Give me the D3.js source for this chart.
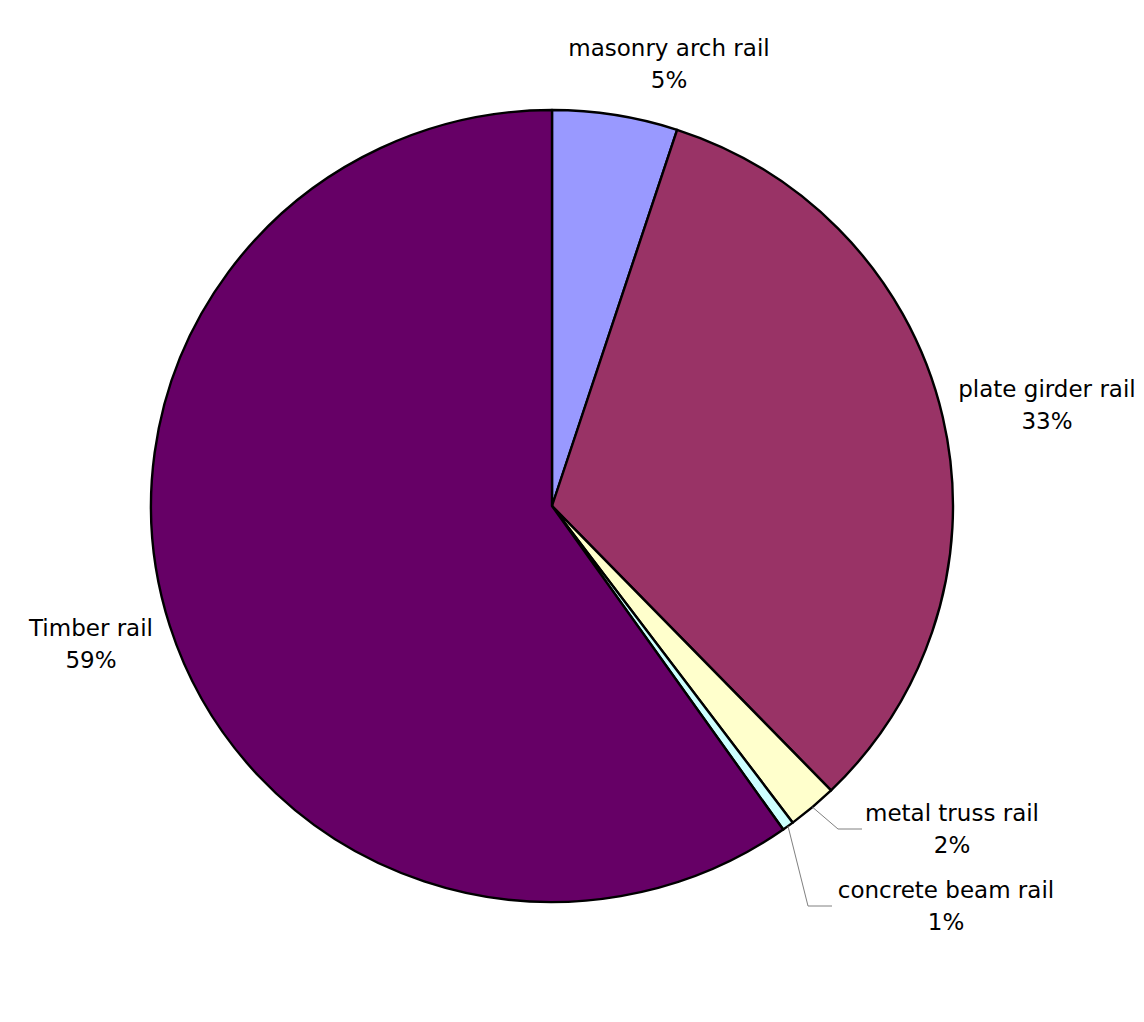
<!DOCTYPE html>
<html>
<head>
<meta charset="utf-8">
<script src="https://cdn.jsdelivr.net/npm/d3@7"></script>
<style>
  body { margin: 0; background: #fff; }
  text { font-family: "DejaVu Sans", sans-serif; font-size: 23px; fill: #000; }
</style>
</head>
<body>
<div id="chart"></div>
<script>
// bridge types, clockwise from 12 o'clock
const categories = ['masonry arch rail', 'plate girder rail', 'metal truss rail', 'concrete beam rail', 'Timber rail'];
const shares = [5.05, 32.7, 2.0, 0.47, 59.78];
const pctLabels = ['5%', '33%', '2%', '1%', '59%'];
const colours = ['#9999FF', '#993366', '#FFFFCC', '#CCFFFF', '#660066'];

const width = 1144, height = 1022;
const cx = 552, cy = 506;
const rx = 401, ry = 396;   // pie is drawn a touch flattened

// where each label block sits (centre x, first baseline y) and its leader, if any
const labelPos = [
  {x: 669, y: 56},
  {x: 1047, y: 397},
  {x: 952, y: 821, elbow: [838, 829], end: 862},
  {x: 946, y: 898, elbow: [808, 906], end: 832},
  {x: 91, y: 636}
];

const svg = d3.select('#chart')
  .append('svg')
  .attr('width', width)
  .attr('height', height);

const pie = d3.pie().sort(null).value(d => d);
const arcs = pie(shares);

const arc = d3.arc().innerRadius(0).outerRadius(rx);

const g = svg.append('g')
  .attr('transform', `translate(${cx},${cy}) scale(1,${ry / rx})`);

g.selectAll('path')
  .data(arcs)
  .enter()
  .append('path')
  .attr('d', arc)
  .attr('fill', (d, i) => colours[i])
  .attr('stroke', '#000')
  .attr('stroke-width', 2.4)
  .attr('stroke-linejoin', 'round');

// leader lines for the thin slices
arcs.forEach((d, i) => {
  const p = labelPos[i];
  if (!p.elbow) return;
  const a = (d.startAngle + d.endAngle) / 2;
  const sx = cx + rx * Math.sin(a);
  const sy = cy - ry * Math.cos(a);
  svg.append('polyline')
    .attr('points', `${sx},${sy} ${p.elbow[0]},${p.elbow[1]} ${p.end},${p.elbow[1]}`)
    .attr('fill', 'none')
    .attr('stroke', '#808080')
    .attr('stroke-width', 1);
});

const labels = svg.selectAll('text.lbl')
  .data(arcs)
  .enter()
  .append('text')
  .attr('class', 'lbl')
  .attr('text-anchor', 'middle');

labels.append('tspan')
  .attr('x', (d, i) => labelPos[i].x)
  .attr('y', (d, i) => labelPos[i].y)
  .text((d, i) => categories[i]);

labels.append('tspan')
  .attr('x', (d, i) => labelPos[i].x)
  .attr('y', (d, i) => labelPos[i].y + 32)
  .text((d, i) => pctLabels[i]);
</script>
</body>
</html>
